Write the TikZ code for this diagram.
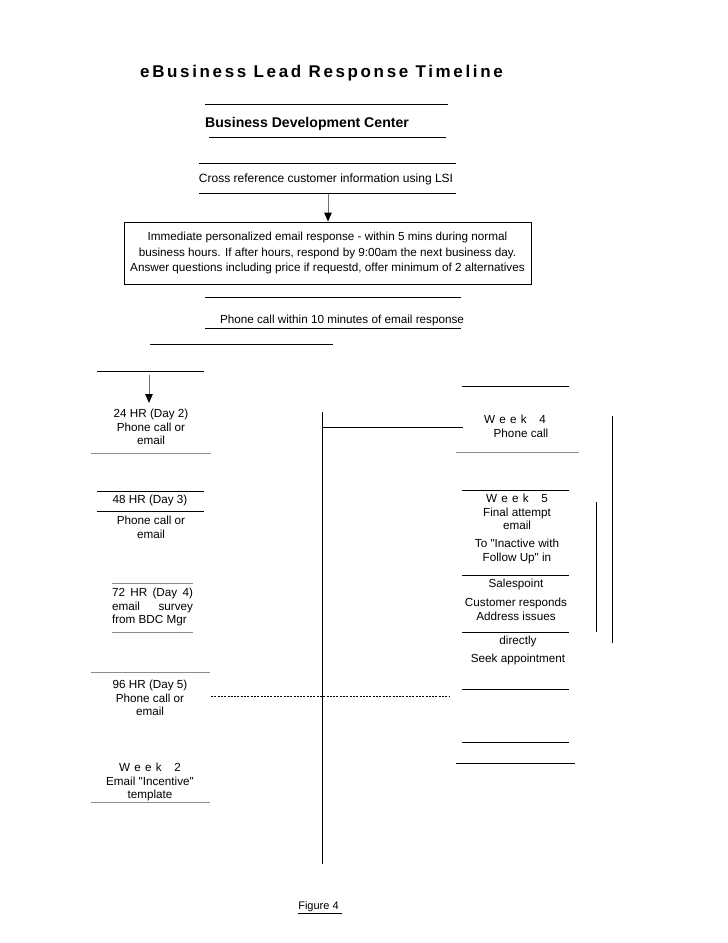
\documentclass[tikz,border=0pt]{standalone}
\usepackage{fontspec}
\setmainfont{Liberation Sans}[Ligatures=TeXOff]
\usetikzlibrary{arrows.meta}
\newcommand\wkspaced[1]{\makebox[62pt][s]{W e e k \ \ #1}}
\begin{document}
\begin{tikzpicture}[x=1pt,y=-1pt,
  font=\fontsize{11.7}{13.8}\selectfont,
  rule/.style={line width=0.9pt, draw=black},
  grule/.style={line width=0.9pt, draw=black!45},
  txt/.style={inner sep=0pt, align=center},
  arr/.style={draw=black!55, line width=1pt, -{Triangle[black,length=9pt,width=7.5pt]}},
  dotline/.style={line width=0.8pt, dash pattern=on 2pt off 1.3pt}]
\useasboundingbox (0,0) rectangle (728,943);

% title
\node[anchor=west, inner sep=0pt, font=\fontsize{17}{20}\bfseries\selectfont] (title) at (140,73)
  {\addfontfeatures{LetterSpace=15.5}eBusiness Lead Response Timeline};

% top block
\draw[rule] (205,104) -- (448,104);
\node[anchor=west, inner sep=0pt, font=\fontsize{14.1}{16}\bfseries\selectfont] (bdc) at (205,124) {Business Development Center};
\draw[rule] (209,137) -- (446,137);
\draw[rule] (199,163) -- (456,163);
\node[txt, font=\fontsize{12}{14}\selectfont] (xref) at (326,179.5) {Cross reference customer information using LSI};
\draw[rule] (199,193) -- (456,193);
\coordinate (xrefbot) at (328,194);

\node[draw, line width=0.9pt, minimum width=407pt, minimum height=62pt, align=center, inner sep=0pt,
  font=\fontsize{11.7}{15.5}\selectfont] (imm) at (327.5,253)
  {\raisebox{-2pt}{Immediate personalized email response - within 5 mins during normal}\\
   \raisebox{-2pt}{business hours. If after hours, respond by 9:00am the next business day.}\\
   \raisebox{-2pt}{Answer questions including price if requestd, offer minimum of 2 alternatives}};
\draw[arr] (xrefbot) -- (xrefbot |- imm.north);

\draw[rule] (205,297) -- (461,297);
\node[txt] (phone10) at (342,320) {Phone call within 10 minutes of email response};
\draw[rule] (205,328) -- (461,328);
\draw[rule] (150,344) -- (333,344);

% left column
\draw[rule] (97,371) -- (204,371);
\coordinate (a24) at (149,375);
\node[txt] (d2) at (151,427) {24 HR (Day 2)\\Phone call or\\email};
\draw[arr] (a24) -- (149,403);
\draw[grule] (91,453) -- (211,453);
\draw[rule] (97,491) -- (204,491);
\node[txt] (d3) at (150,500) {48 HR (Day 3)};
\draw[rule] (97,511) -- (204,511);
\node[txt] (d3b) at (151,527.5) {Phone call or\\email};
\draw[grule] (112,583) -- (193,583);
\node[txt, align=left] (d4) at (152.5,607)
  {\makebox[81pt][s]{72 HR (Day 4)}\\\makebox[81pt][s]{email survey}\\from BDC Mgr};
\draw[grule] (112,632) -- (193,632);
\draw[grule] (91,672) -- (210,672);
\node[txt] (d5) at (150,698) {96 HR (Day 5)\\Phone call or\\email};
\draw[dotline] (211,696) -- (450,696);
\node[txt] (w2) at (150,782) {\wkspaced{2}\\Email "Incentive"\\template};
\draw[grule] (91,802) -- (210,802);

% center
\draw[rule] (322,412) -- (322,864);
\draw[rule] (322,427) -- (463,427);

% right column
\draw[rule] (462,386) -- (569,386);
\node[txt] (w4a) at (515,419) {\wkspaced{4}};
\node[txt] (w4b) at (521,433) {Phone call};
\draw[grule] (456,452) -- (579,452);
\draw[rule] (462,490) -- (569,490);
\node[txt] (w5) at (517,512) {\wkspaced{5}\\Final attempt\\email};
\node[txt] (inact) at (517,551.5) {To "Inactive with\\Follow Up" in};
\draw[rule] (462,575) -- (569,575);
\node[txt] (sp) at (516,584) {Salespoint};
\node[txt] (cust) at (516,609) {Customer responds\\Address issues};
\draw[rule] (462,632) -- (569,632);
\node[txt] (dir) at (518,641) {directly};
\node[txt] (seek) at (518,659) {Seek appointment};
\draw[rule] (462,689) -- (569,689);
\draw[rule] (462,742) -- (569,742);
\draw[rule] (456,763) -- (575,763);
\draw[rule] (612,416) -- (612,643);
\draw[rule] (596,502) -- (596,632);

% caption
\node[txt, font=\fontsize{11}{13}\selectfont] (fig) at (320,908) {\underline{Figure 4\ }};
\end{tikzpicture}
\end{document}
